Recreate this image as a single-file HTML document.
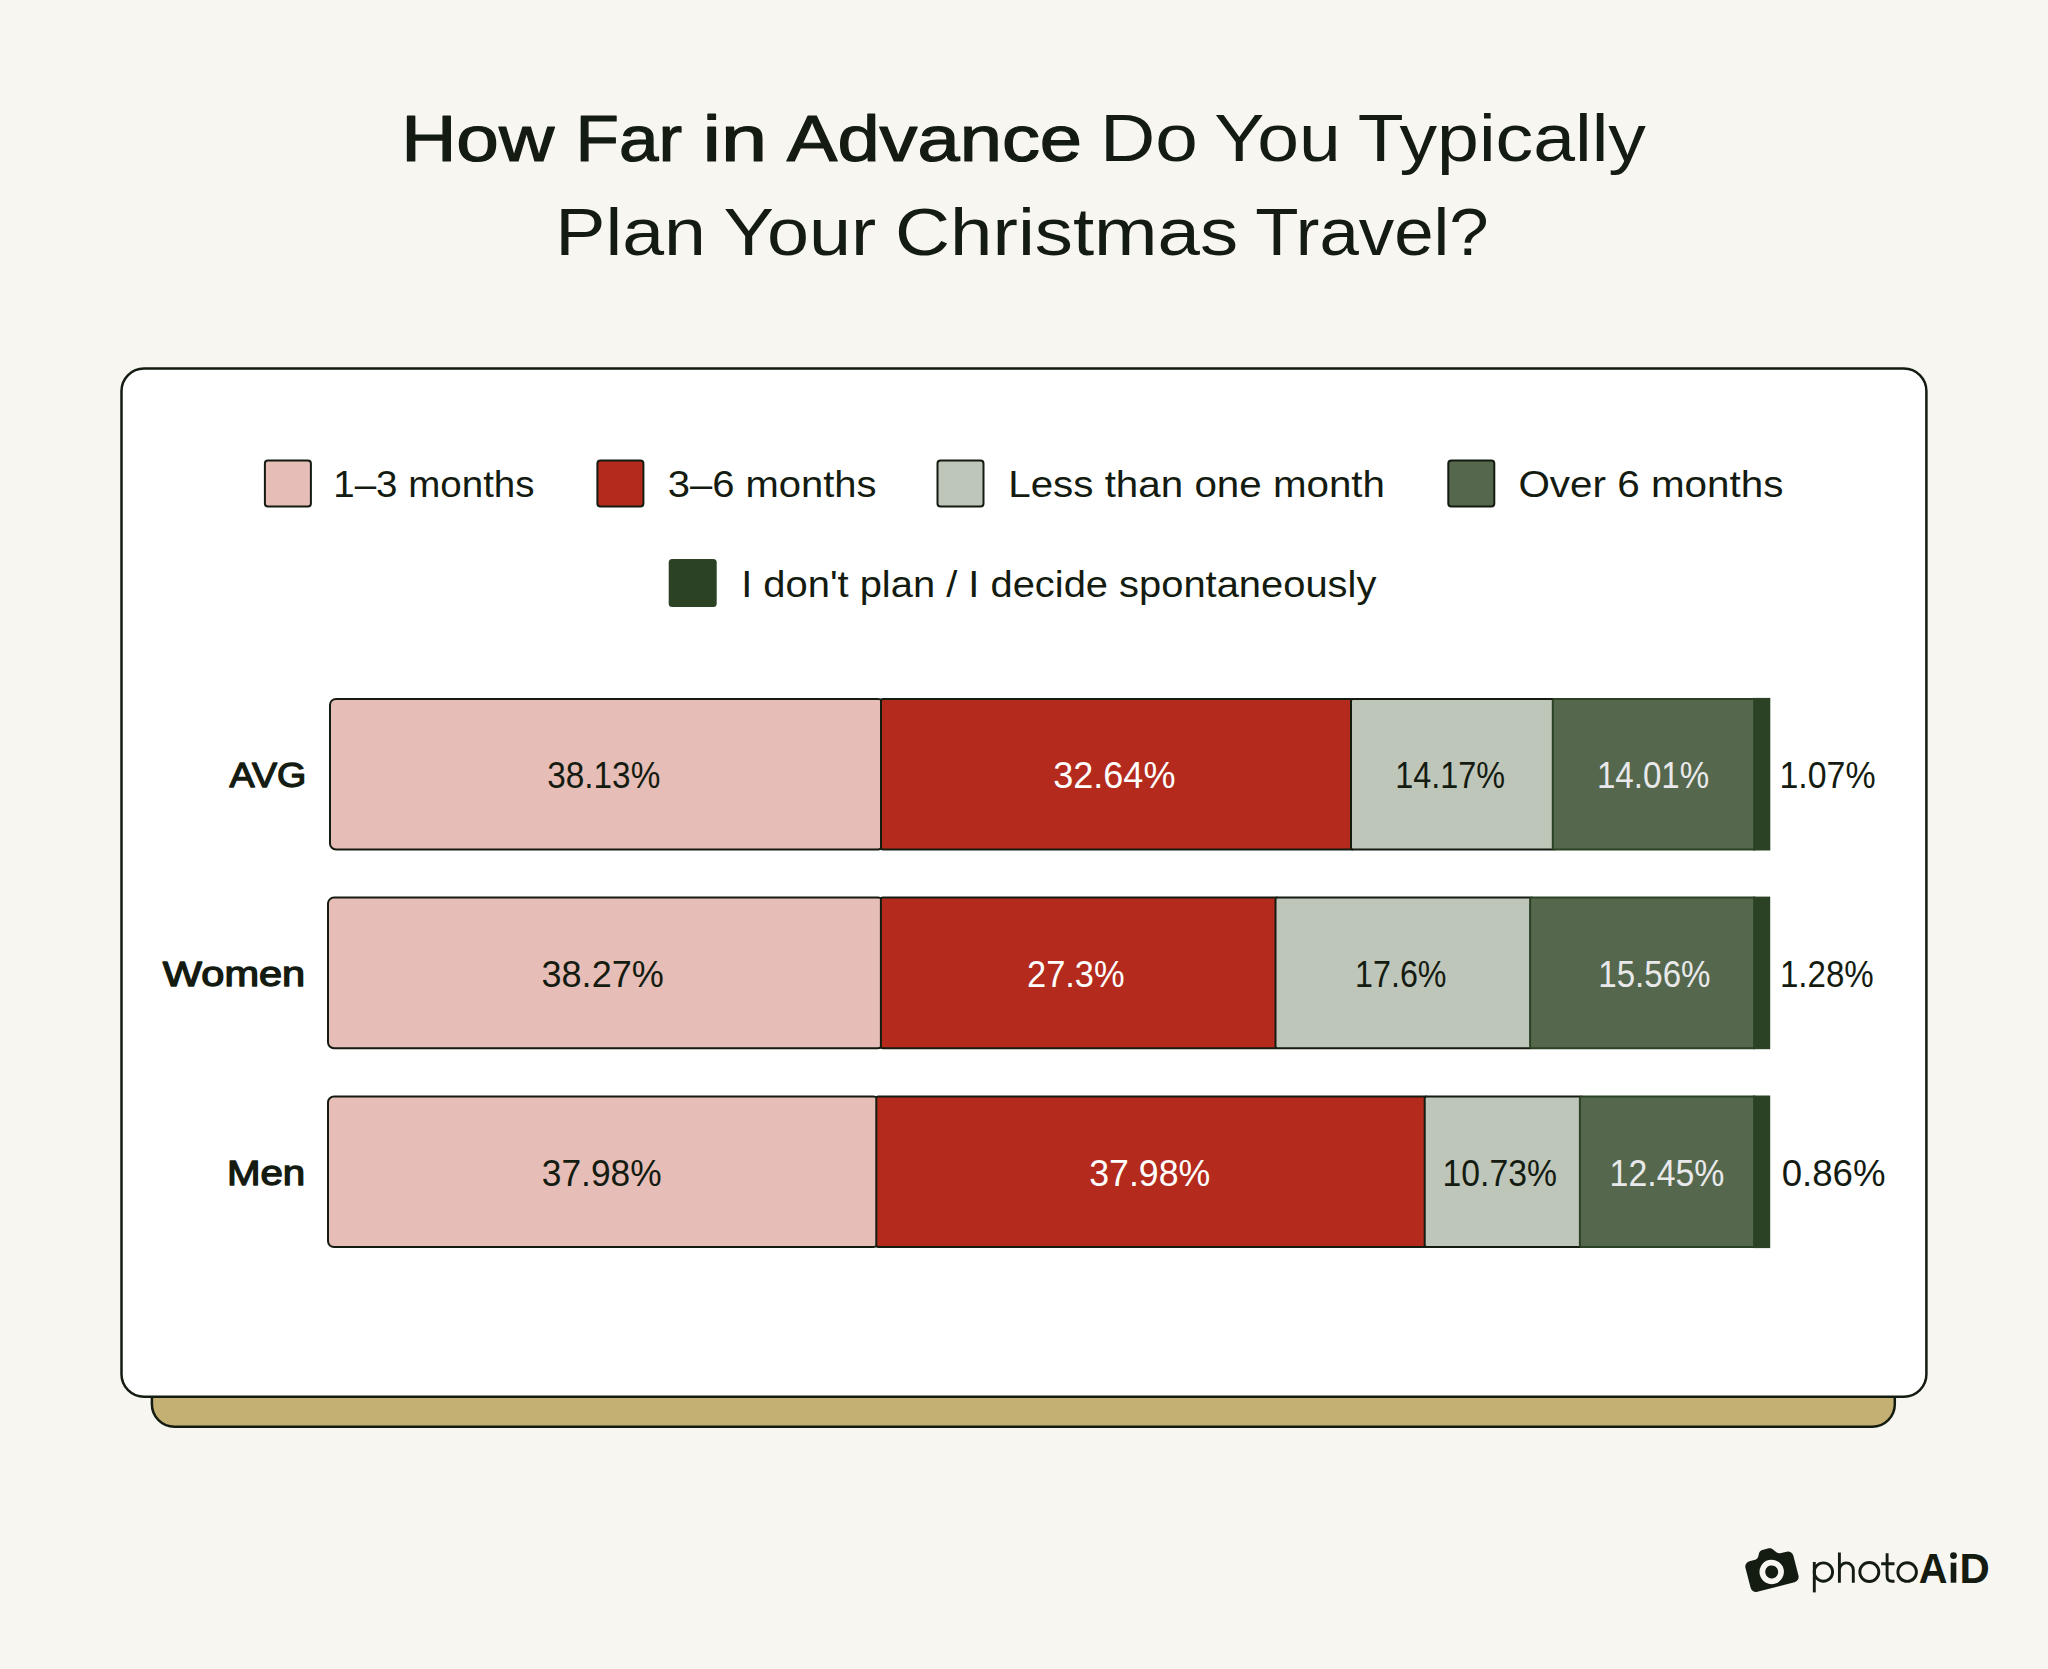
<!DOCTYPE html>
<html><head><meta charset="utf-8"><title>How Far in Advance Do You Typically Plan Your Christmas Travel?</title>
<style>
html,body{margin:0;padding:0;background:#f7f6f1;}
body{width:2048px;height:1669px;overflow:hidden;}
svg{display:block;}
text{font-family:"Liberation Sans",sans-serif;}
</style></head><body>
<svg width="2048" height="1669" viewBox="0 0 2048 1669">
<rect x="0" y="0" width="2048" height="1669" fill="#f7f6f1"/>
<path d="M151.9 1200 V1404.3 A22.5 22.5 0 0 0 174.4 1426.8 H1872.3 A22.5 22.5 0 0 0 1894.8 1404.3 V1200 Z" fill="#c5b074" stroke="#141b10" stroke-width="2.5"/>
<rect x="121.5" y="368.6" width="1804.9" height="1028.1" rx="22.5" fill="#ffffff" stroke="#141b10" stroke-width="2.5"/>
<rect x="264.9" y="460.4" width="46" height="46" rx="3" fill="#e6bdb7" stroke="#141b10" stroke-width="2"/>
<rect x="597.4" y="460.5" width="46" height="46" rx="3" fill="#b42b1e" stroke="#141b10" stroke-width="2"/>
<rect x="937.5" y="460.5" width="46" height="46" rx="3" fill="#bec5b9" stroke="#141b10" stroke-width="2"/>
<rect x="1448.3" y="460.5" width="46" height="46" rx="3" fill="#55684d" stroke="#141b10" stroke-width="2"/>
<rect x="668.7" y="558.9" width="48" height="48" rx="3.5" fill="#2b4224"/>
<rect x="330.0" y="698.9" width="554.0" height="150.6" rx="6" fill="#e6bdb7" stroke="#141b10" stroke-width="2"/>
<rect x="881.0" y="698.9" width="473.0" height="150.6" rx="2" fill="#b42b1e" stroke="#141b10" stroke-width="2"/>
<rect x="1351.0" y="698.9" width="204.8" height="150.6" rx="2" fill="#bec5b9" stroke="#141b10" stroke-width="2"/>
<rect x="1552.8" y="698.9" width="203.4" height="150.6" rx="2" fill="#55684d" stroke="#2b4224" stroke-width="2"/>
<rect x="1753.2" y="697.9" width="17.1" height="152.6" fill="#2b4224"/>
<rect x="328.0" y="897.6" width="555.9" height="150.6" rx="6" fill="#e6bdb7" stroke="#141b10" stroke-width="2"/>
<rect x="880.9" y="897.6" width="397.6" height="150.6" rx="2" fill="#b42b1e" stroke="#141b10" stroke-width="2"/>
<rect x="1275.5" y="897.6" width="257.6" height="150.6" rx="2" fill="#bec5b9" stroke="#141b10" stroke-width="2"/>
<rect x="1530.1" y="897.6" width="226.0" height="150.6" rx="2" fill="#55684d" stroke="#2b4224" stroke-width="2"/>
<rect x="1753.1" y="896.6" width="17.1" height="152.6" fill="#2b4224"/>
<rect x="328.0" y="1096.5" width="551.3" height="150.6" rx="6" fill="#e6bdb7" stroke="#141b10" stroke-width="2"/>
<rect x="876.3" y="1096.5" width="551.4" height="150.6" rx="2" fill="#b42b1e" stroke="#141b10" stroke-width="2"/>
<rect x="1424.7" y="1096.5" width="158.2" height="150.6" rx="2" fill="#bec5b9" stroke="#141b10" stroke-width="2"/>
<rect x="1579.9" y="1096.5" width="176.2" height="150.6" rx="2" fill="#55684d" stroke="#2b4224" stroke-width="2"/>
<rect x="1753.1" y="1095.5" width="17.1" height="152.6" fill="#2b4224"/>
<text transform="translate(401.13 160.50) scale(1.1821 1)" font-size="64.71" font-weight="normal" fill="#141b10" stroke="#141b10" stroke-width="1.2" stroke-linejoin="round">How</text>
<text transform="translate(575.51 160.50) scale(1.0980 1)" font-size="64.71" font-weight="normal" fill="#141b10" stroke="#141b10" stroke-width="1.2" stroke-linejoin="round">Far</text>
<text transform="translate(702.58 160.50) scale(1.2828 1)" font-size="64.71" font-weight="normal" fill="#141b10" stroke="#141b10" stroke-width="1.2" stroke-linejoin="round">in</text>
<text transform="translate(786.80 160.50) scale(1.1725 1)" font-size="64.71" font-weight="normal" fill="#141b10" stroke="#141b10" stroke-width="1.2" stroke-linejoin="round">Advance</text>
<text transform="translate(1100.02 161.10) scale(1.1529 1)" font-size="66.42" font-weight="normal" fill="#141b10">Do</text>
<text transform="translate(1214.13 161.10) scale(1.1303 1)" font-size="66.42" font-weight="normal" fill="#141b10">You</text>
<text transform="translate(1357.73 161.10) scale(1.1319 1)" font-size="66.42" font-weight="normal" fill="#141b10">Typically</text>
<text transform="translate(555.22 254.50) scale(1.1411 1)" font-size="65.99" font-weight="normal" fill="#141b10">Plan</text>
<text transform="translate(723.42 254.50) scale(1.1456 1)" font-size="65.99" font-weight="normal" fill="#141b10">Your</text>
<text transform="translate(895.03 254.50) scale(1.1554 1)" font-size="65.99" font-weight="normal" fill="#141b10">Christmas</text>
<text transform="translate(1255.19 254.50) scale(1.0734 1)" font-size="65.99" font-weight="normal" fill="#141b10">Travel?</text>
<text transform="translate(333.29 497.00) scale(1.0540 1)" font-size="36.55" font-weight="normal" fill="#141b10">1–3 months</text>
<text transform="translate(667.75 497.00) scale(1.0932 1)" font-size="36.55" font-weight="normal" fill="#141b10">3–6 months</text>
<text transform="translate(1008.25 497.00) scale(1.1041 1)" font-size="36.55" font-weight="normal" fill="#141b10">Less than one month</text>
<text transform="translate(1518.40 497.00) scale(1.1062 1)" font-size="36.55" font-weight="normal" fill="#141b10">Over 6 months</text>
<text transform="translate(741.18 596.60) scale(1.0668 1)" font-size="37.40" font-weight="normal" fill="#141b10">I don&#39;t plan / I decide spontaneously</text>
<text transform="translate(229.61 787.25) scale(1.0848 1)" font-size="34.70" font-weight="normal" fill="#141b10" stroke="#141b10" stroke-width="1.3" stroke-linejoin="round">AVG</text>
<text transform="translate(162.79 986.05) scale(1.2078 1)" font-size="34.42" font-weight="normal" fill="#141b10" stroke="#141b10" stroke-width="1.3" stroke-linejoin="round">Women</text>
<text transform="translate(226.91 1184.85) scale(1.1645 1)" font-size="34.56" font-weight="normal" fill="#141b10" stroke="#141b10" stroke-width="1.3" stroke-linejoin="round">Men</text>
<text transform="translate(547.26 788.00) scale(0.9013 1)" font-size="36.98" font-weight="normal" fill="#141b10">38.13%</text>
<text transform="translate(1053.17 788.00) scale(0.9752 1)" font-size="36.98" font-weight="normal" fill="#ffffff">32.64%</text>
<text transform="translate(1395.17 788.00) scale(0.8762 1)" font-size="36.98" font-weight="normal" fill="#141b10">14.17%</text>
<text transform="translate(1596.93 788.00) scale(0.8951 1)" font-size="36.98" font-weight="normal" fill="#e9e9eb">14.01%</text>
<text transform="translate(1779.48 788.00) scale(0.9168 1)" font-size="36.98" font-weight="normal" fill="#141b10">1.07%</text>
<text transform="translate(541.47 986.80) scale(0.9798 1)" font-size="36.84" font-weight="normal" fill="#141b10">38.27%</text>
<text transform="translate(1026.99 986.80) scale(0.9348 1)" font-size="36.84" font-weight="normal" fill="#ffffff">27.3%</text>
<text transform="translate(1355.08 986.80) scale(0.8758 1)" font-size="36.84" font-weight="normal" fill="#141b10">17.6%</text>
<text transform="translate(1598.23 986.80) scale(0.8994 1)" font-size="36.84" font-weight="normal" fill="#e9e9eb">15.56%</text>
<text transform="translate(1779.93 986.80) scale(0.8986 1)" font-size="36.84" font-weight="normal" fill="#141b10">1.28%</text>
<text transform="translate(541.80 1185.60) scale(0.9594 1)" font-size="36.84" font-weight="normal" fill="#141b10">37.98%</text>
<text transform="translate(1089.18 1185.60) scale(0.9692 1)" font-size="36.84" font-weight="normal" fill="#ffffff">37.98%</text>
<text transform="translate(1442.49 1185.60) scale(0.9158 1)" font-size="36.84" font-weight="normal" fill="#141b10">10.73%</text>
<text transform="translate(1609.58 1185.60) scale(0.9199 1)" font-size="36.84" font-weight="normal" fill="#e9e9eb">12.45%</text>
<text transform="translate(1781.65 1185.60) scale(0.9951 1)" font-size="36.84" font-weight="normal" fill="#141b10">0.86%</text>
<text transform="translate(1918.68 1582.70) scale(0.9248 1)" font-size="43.09" font-weight="bold" fill="#141b10">A</text>
<text transform="translate(1959.48 1582.70) scale(0.9728 1)" font-size="43.09" font-weight="bold" fill="#141b10">D</text>
<g transform="translate(1771.7 1571.9) rotate(-14.5)" fill="#141b10">
<path d="M-18.9 -15.85 H-14 C-10.5 -15.85 -9.2 -17.9 -8.2 -20.2 C-7.2 -22.8 -5.2 -23.6 -2.6 -23.6 H3 C5 -23.6 6.2 -22.6 7.2 -21 C8.6 -18.6 10.2 -15.85 14 -15.85 H19.5 A5.5 5.5 0 0 1 25 -10.35 V10.15 A5.5 5.5 0 0 1 19.5 15.65 H-18.9 A5.5 5.5 0 0 1 -24.4 10.15 V-10.35 A5.5 5.5 0 0 1 -18.9 -15.85 Z"/>
<circle cx="0" cy="0" r="12.2" fill="#f7f6f1"/>
<circle cx="0" cy="0" r="6.5"/>
</g>
<g fill="none" stroke="#141b10" stroke-width="2.9">
<path d="M1814.3 1562 V1592.4"/>
<circle cx="1823.4" cy="1572.05" r="9.2"/>
<path d="M1839.4 1552.4 V1582.7 M1839.4 1582.7 V1569.85 A6.95 6.95 0 0 1 1853.3 1569.85 V1582.7"/>
<circle cx="1869.3" cy="1572.05" r="9.5"/>
<path d="M1887.1 1553.3 V1576 Q1887.1 1581.3 1892 1581.3 H1894.5 M1881.2 1563.8 H1894.5"/>
<circle cx="1907.15" cy="1572.05" r="9.3"/>
</g>
<rect x="1950.7" y="1562.7" width="5.6" height="20" fill="#141b10"/>
<circle cx="1953.5" cy="1555.6" r="3.4" fill="#141b10"/>

</svg>
</body></html>
